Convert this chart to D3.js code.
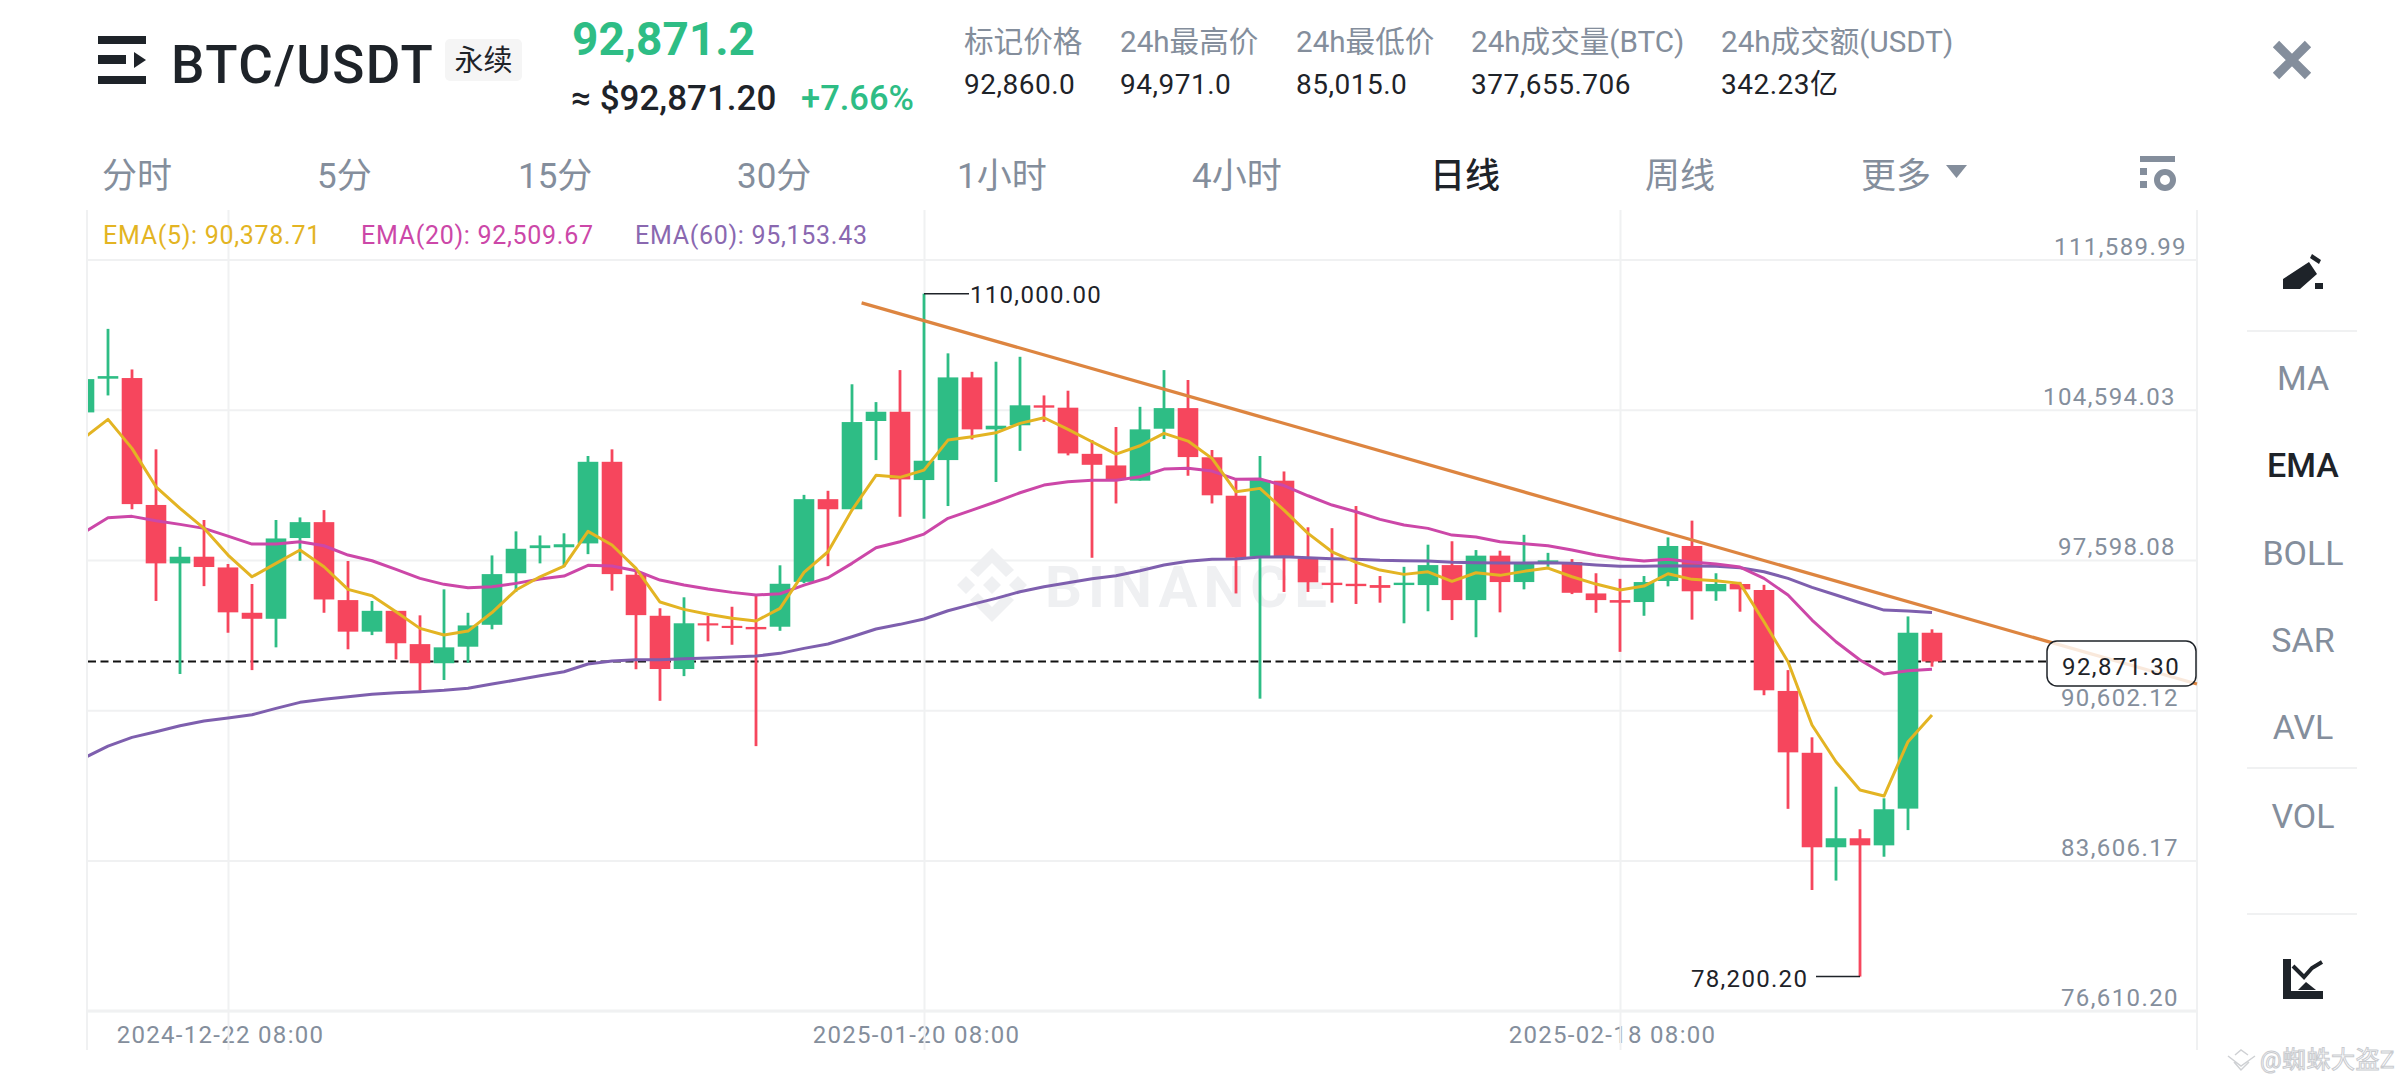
<!DOCTYPE html>
<html>
<head>
<meta charset="utf-8">
<script src="https://cdn.jsdelivr.net/npm/d3@7"></script>
<style>
  html, body { margin: 0; padding: 0; background: #fff; }
  svg { display: block; }
  text { font-family: Roboto, "Noto Sans CJK SC", sans-serif; }
</style>
</head>
<body>
<svg id="chart" width="2400" height="1080"></svg>
<script>
// daily candles, 2024-12-16 onwards
const opens = [
  104470,106040,106070,100160,97440,97750,97250,95140,94860,98620,
  99360,95730,94260,95230,93680,92790,93560,94580,96980,98150,
  98190,98370,102170,96910,95000,92520,94650,94530,94480,94490,
  96580,100430,99960,104070,104500,101320,102250,106100,103680,103870,
  104800,104690,102540,102000,101290,103710,104670,102380,100590,97750,
  101290,97670,96540,96490,96430,96430,96430,97360,95730,97800,
  96570,97440,97500,96040,95730,95640,96620,98250,96140,96480,
  96200,91500,88620,84220,84640,84310,86020,94210];
const highs = [
  106020,108360,106470,102750,98210,99460,97410,96480,99460,99580,
  99920,97550,95690,95230,95020,96230,95140,97810,98930,98740,
  98840,102440,102750,97130,95350,95860,94990,95420,95970,97350,
  100630,100820,105780,104950,106440,110000,107220,106360,106830,107060,
  105260,105480,103180,103790,104730,106440,105980,102720,101400,102440,
  101720,99120,99080,100110,96850,97280,98310,98470,98060,98030,
  98770,97930,97640,96980,96720,96850,98650,99430,96980,96580,
  96440,92470,89340,87040,85060,86500,94970,94370];
const lows = [
  104470,105260,99960,95690,92290,96380,94210,92470,93530,97560,
  95140,93440,94100,92970,91510,92010,92810,94370,96120,97440,
  97280,97870,96170,92510,91040,92190,93810,93650,88930,94300,
  96520,97310,99960,102250,99610,99520,100110,103210,101230,102680,
  104030,102470,97700,100230,101290,103230,101520,100230,96040,91140,
  96110,96110,95610,95550,95610,94650,95210,94800,94000,95160,
  96230,97280,96010,95140,93320,95000,96370,94820,95700,95190,
  91300,86010,82230,82670,78200.2,83780,85020,92630];
const closes = [
  106020,106160,100200,97440,97750,97270,95160,94860,98600,99360,
  95760,94260,95230,93720,92790,93530,94550,96940,98120,98280,
  98330,102170,96940,95030,92520,94650,94550,94430,94370,96490,
  100430,99960,104020,104500,101350,102220,106100,103680,103850,104800,
  104690,102560,102030,101320,103680,104670,102390,100610,97700,101320,
  97730,96560,96430,96380,96300,96540,97360,95730,97800,96570,
  97440,97580,96070,95730,95610,96570,98250,96140,96480,96230,
  91530,88640,84220,84640,84310,85990,94210,92871.3];

const ema5 = [
  103275,104145,102795,101007,100002,99070,97827,96816,97441,98060,
  97282,96230,95932,95187,94414,94102,94288,95150,96198,96816,
  97315,98931,98294,97209,95639,95299,95067,94881,94755,95346,
  97022,97981,99922,101538,101445,101785,103182,103335,103521,103959,
  104220,103680,103103,102530,102917,103494,103135,102330,100774,100933,
  99922,98836,97981,97487,97128,96928,97049,96602,97003,96882,
  97068,97222,96816,96476,96198,96384,96956,96696,96630,96509,
  94722,92859,89912,88203,86886,86606,89135,90378.71];
const ema20 = [
  98884,99564,99629,99424,99256,99070,98712,98339,98339,98446,
  98260,97827,97562,97161,96742,96463,96305,96351,96509,96710,
  96850,97348,97315,97096,96663,96430,96244,96090,95965,96026,
  96430,96770,97441,98167,98446,98804,99536,99922,100309,100728,
  101087,101240,101306,101306,101473,101832,101865,101739,101352,101366,
  101063,100588,100155,99843,99489,99225,99070,98758,98665,98446,
  98353,98260,98060,97827,97655,97548,97627,97501,97408,97268,
  96742,95965,94801,93790,92938,92286,92440,92509.67];
const ema60 = [
  88376,88934,89339,89600,89879,90098,90238,90391,90689,90969,
  91109,91230,91341,91416,91462,91528,91621,91821,92007,92207,
  92394,92752,92892,92953,92953,93000,93032,93078,93125,93250,
  93483,93684,94024,94383,94601,94848,95234,95532,95811,96118,
  96351,96537,96724,96864,97096,97362,97534,97627,97641,97734,
  97748,97701,97655,97627,97580,97562,97548,97487,97468,97455,
  97455,97468,97441,97362,97306,97306,97325,97315,97301,97236,
  97050,96742,96323,95965,95606,95266,95220,95153.43];

const priceTicks = [76610.20, 83606.17, 90602.12, 97598.08, 104594.03, 111589.99];
const dateTickIndex = [6, 35, 64];
const dateTickLabels = ["2024-12-22 08:00", "2025-01-20 08:00", "2025-02-18 08:00"];
const lastPrice = 92871.30;
const highIndex = 35, lowIndex = 74;
const trendIndex = [32.4, 88.04];
const trendPrice = [109570, 91820];

const tabs = ["分时", "5分", "15分", "30分", "1小时", "4小时", "日线", "周线", "更多"];
const statLabels = ["标记价格", "24h最高价", "24h最低价", "24h成交量(BTC)", "24h成交额(USDT)"];
const statValues = ["92,860.0", "94,971.0", "85,015.0", "377,655.706", "342.23亿"];
const indicators = ["MA", "EMA", "BOLL", "SAR", "AVL", "VOL"];

const GREEN = "#2ebd85", RED = "#f6465d", INK = "#1e2329", GRAY = "#848e9c", GRID = "#f0f1f2";
const plot = { left: 88, right: 2197, top: 210, bottom: 1011, end: 1050 };

const svg = d3.select("#chart");
const fmt = d3.format(",.2f");

const x = d3.scaleLinear().domain([0, opens.length - 1]).range([84, 1932]);
const y = d3.scaleLinear().domain([76610.20, 111589.99]).range([1010.7, 259.5]);

svg.append("defs").append("clipPath").attr("id", "plot-clip")
  .append("rect").attr("x", plot.left).attr("y", plot.top)
  .attr("width", plot.right - plot.left).attr("height", plot.bottom - plot.top);

// grid + axes
svg.append("g").selectAll("line")
  .data([plot.left - 1, plot.right])
  .join("line")
  .attr("x1", d => d).attr("x2", d => d)
  .attr("y1", plot.top).attr("y2", plot.end)
  .attr("stroke", GRID).attr("stroke-width", 2);

const yAxis = svg.append("g")
  .attr("transform", `translate(${plot.right},0)`)
  .call(d3.axisLeft(y).tickValues(priceTicks).tickSize(plot.right - plot.left).tickFormat(fmt));
yAxis.select(".domain").remove();
yAxis.selectAll("line").attr("stroke", GRID).attr("stroke-width", 2);
const labelRight = [2179, 2179, 2179, 2176, 2176, 2187];
yAxis.selectAll("text")
  .attr("x", (d, i) => labelRight[i] - plot.right)
  .attr("dy", 0).attr("y", -5)
  .attr("text-anchor", "end")
  .attr("fill", GRAY)
  .style("font-size", "24px")
  .style("letter-spacing", "1.4px");

const xAxis = svg.append("g")
  .attr("transform", `translate(0,${plot.bottom})`)
  .call(d3.axisTop(x).tickValues(dateTickIndex).tickSize(plot.bottom - plot.top).tickSizeOuter(0)
    .tickFormat((d, i) => dateTickLabels[i]));
xAxis.select(".domain").remove();
xAxis.selectAll("line").attr("stroke", GRID).attr("stroke-width", 2);
xAxis.selectAll(".tick").append("line")
  .attr("y1", 0).attr("y2", plot.end - plot.bottom)
  .attr("stroke", GRID).attr("stroke-width", 2);
xAxis.selectAll("text")
  .attr("x", -8).attr("y", 32).attr("dy", 0)
  .attr("text-anchor", "middle")
  .attr("fill", GRAY)
  .style("font-size", "24px")
  .style("letter-spacing", "1.3px");
svg.append("line")
  .attr("x1", plot.left).attr("x2", plot.right)
  .attr("y1", plot.bottom).attr("y2", plot.bottom)
  .attr("stroke", GRID).attr("stroke-width", 3);

// watermark
const wm = svg.append("g").attr("fill", "#eff0f2");
wm.append("path").attr("transform", "translate(992,585)")
  .attr("d", "M0,-9L9,0L0,9L-9,0Z M-26,-9L-17,0L-26,9L-35,0Z M26,-9L35,0L26,9L17,0Z"
    + " M0,-37L22,-15L14,-8L0,-22L-14,-8L-22,-15Z M0,37L22,15L14,8L0,22L-14,8L-22,15Z");
wm.append("text").attr("x", 1045).attr("y", 607)
  .style("font-size", "58px").style("font-weight", 700).style("letter-spacing", "6px")
  .text("BINANCE");

// last price line
svg.append("line")
  .attr("x1", plot.left).attr("x2", 2047)
  .attr("y1", y(lastPrice)).attr("y2", y(lastPrice))
  .attr("stroke", "#111").attr("stroke-width", 2).attr("stroke-dasharray", "8 4.5");

const chart = svg.append("g").attr("clip-path", "url(#plot-clip)");
const colour = i => (closes[i] >= opens[i] ? GREEN : RED);

chart.append("g").selectAll("line")
  .data(d3.range(opens.length))
  .join("line")
  .attr("x1", i => x(i)).attr("x2", i => x(i))
  .attr("y1", i => y(highs[i])).attr("y2", i => y(lows[i]))
  .attr("stroke", colour).attr("stroke-width", 2.8);

chart.append("g").selectAll("rect")
  .data(d3.range(opens.length))
  .join("rect")
  .attr("x", i => x(i) - 10.3)
  .attr("width", 20.6)
  .attr("y", i => y(Math.max(opens[i], closes[i])))
  .attr("height", i => Math.max(2, Math.abs(y(opens[i]) - y(closes[i]))))
  .attr("fill", colour);

const line = d3.line().x((d, i) => x(i)).y(d => y(d));
[[ema60, "#7e5fae"], [ema20, "#cc47a8"], [ema5, "#e3b423"]].forEach(([values, stroke]) => {
  chart.append("path").attr("d", line(values))
    .attr("fill", "none").attr("stroke", stroke).attr("stroke-width", 3)
    .attr("stroke-linejoin", "round");
});

// trend line
svg.append("line")
  .attr("x1", x(trendIndex[0])).attr("y1", y(trendPrice[0]))
  .attr("x2", x(trendIndex[1])).attr("y2", y(trendPrice[1]))
  .attr("stroke", "#dd8540").attr("stroke-width", 3.2);

// high / low callouts
svg.append("path")
  .attr("d", `M${x(highIndex)},${y(110000)}H969`)
  .attr("stroke", INK).attr("stroke-width", 1.5).attr("fill", "none");
svg.append("text").attr("x", 970).attr("y", 303).attr("fill", INK)
  .style("font-size", "24px").style("letter-spacing", "1.3px").text(fmt(highs[highIndex]));
svg.append("path")
  .attr("d", `M${x(lowIndex)},${y(78200.2)}H1816`)
  .attr("stroke", INK).attr("stroke-width", 1.5).attr("fill", "none");
svg.append("text").attr("x", 1691).attr("y", 987).attr("fill", INK)
  .style("font-size", "24px").style("letter-spacing", "1.3px").text(fmt(lows[lowIndex]));

// last price tag
svg.append("rect")
  .attr("x", 2047).attr("y", 641).attr("width", 149).attr("height", 45).attr("rx", 10)
  .attr("fill", "#fff").attr("fill-opacity", 0.82)
  .attr("stroke", INK).attr("stroke-width", 1.5);
svg.append("text").attr("x", 2062).attr("y", 675).attr("fill", INK)
  .style("font-size", "24px").style("letter-spacing", "1.4px").text(fmt(lastPrice));

// legend
const legend = [["EMA(5)", ema5, 103, "#e3b423"], ["EMA(20)", ema20, 361, "#cc47a8"], ["EMA(60)", ema60, 635, "#8a68b0"]];
svg.append("g").selectAll("text")
  .data(legend)
  .join("text")
  .attr("x", d => d[2]).attr("y", 244)
  .attr("fill", d => d[3])
  .style("font-size", "25px")
  .style("letter-spacing", "0.7px")
  .text(d => `${d[0]}: ${fmt(d[1][d[1].length - 1])}`);

// header
const logo = svg.append("g").attr("fill", INK);
logo.append("rect").attr("x", 98).attr("y", 36).attr("width", 48).attr("height", 8);
logo.append("rect").attr("x", 98).attr("y", 55).attr("width", 28).attr("height", 9);
logo.append("path").attr("d", "M134,52L146,60L134,68Z");
logo.append("rect").attr("x", 98).attr("y", 76).attr("width", 48).attr("height", 8);

svg.append("text").attr("x", 171).attr("y", 83).attr("fill", INK)
  .style("font-size", "53px").style("font-weight", 500).style("letter-spacing", "1.4px").text("BTC/USDT");
svg.append("rect").attr("x", 445).attr("y", 39).attr("width", 77).attr("height", 42).attr("rx", 5).attr("fill", "#f5f5f5");
svg.append("text").attr("x", 483.5).attr("y", 71).attr("text-anchor", "middle").attr("fill", INK)
  .style("font-size", "29px").text("永续");

svg.append("text").attr("x", 572).attr("y", 55).attr("fill", GREEN)
  .style("font-size", "46px").style("font-weight", 700).text("92,871.2");
svg.append("text").attr("x", 571).attr("y", 110).attr("fill", INK)
  .style("font-size", "35px").style("font-weight", 500).text("≈ $92,871.20");
svg.append("text").attr("x", 801).attr("y", 110).attr("fill", GREEN)
  .style("font-size", "34.5px").style("font-weight", 500).text("+7.66%");

const statX = [964, 1120, 1296, 1471, 1721];
svg.append("g").selectAll("text")
  .data(statLabels)
  .join("text")
  .attr("x", (d, i) => statX[i]).attr("y", 52).attr("fill", GRAY)
  .style("font-size", "29.6px")
  .text(d => d);
svg.append("g").selectAll("text")
  .data(statValues)
  .join("text")
  .attr("x", (d, i) => statX[i]).attr("y", 94).attr("fill", INK)
  .style("font-size", "28px")
  .style("letter-spacing", "0.5px")
  .text(d => d);

// close button
svg.append("path").attr("d", "M2276,44L2308,76M2308,44L2276,76")
  .attr("stroke", GRAY).attr("stroke-width", 9).attr("fill", "none");

// period tabs
const tabX = [102, 317, 518, 737, 957, 1192, 1430, 1645, 1861];
svg.append("g").selectAll("text")
  .data(tabs)
  .join("text")
  .attr("x", (d, i) => tabX[i]).attr("y", 188)
  .attr("fill", d => (d === "日线" ? INK : GRAY))
  .style("font-size", "35px")
  .style("font-weight", d => (d === "日线" ? 500 : 400))
  .text(d => d);
svg.append("path").attr("d", "M1946,165H1967L1956.5,178Z").attr("fill", GRAY);

const gear = svg.append("g").attr("fill", GRAY);
gear.append("rect").attr("x", 2140).attr("y", 156).attr("width", 35).attr("height", 6);
gear.append("rect").attr("x", 2140).attr("y", 168).attr("width", 7).attr("height", 7);
gear.append("rect").attr("x", 2140).attr("y", 181).attr("width", 7).attr("height", 7);
gear.append("circle").attr("cx", 2165).attr("cy", 180).attr("r", 8)
  .attr("fill", "none").attr("stroke", GRAY).attr("stroke-width", 6);

// right side panel
svg.append("g").selectAll("line")
  .data([331, 768, 914])
  .join("line")
  .attr("x1", 2247).attr("x2", 2357).attr("y1", d => d).attr("y2", d => d)
  .attr("stroke", GRID).attr("stroke-width", 2);
const indicatorY = [378, 465, 552.5, 640, 727, 816];
svg.append("g").selectAll("text")
  .data(indicators)
  .join("text")
  .attr("x", 2303).attr("y", (d, i) => indicatorY[i] + 12)
  .attr("text-anchor", "middle")
  .attr("fill", d => (d === "EMA" ? INK : GRAY))
  .style("font-size", "34px")
  .style("font-weight", d => (d === "EMA" ? 500 : 400))
  .text(d => d);

svg.append("path").attr("fill", INK)
  .attr("d", "M2283,289V279L2309,262L2317,274L2300,289ZM2312,254L2321,260L2319,264L2310,258ZM2315,283H2323V289H2315Z");
svg.append("path").attr("fill", INK)
  .attr("d", "M2283,959H2291V991H2323V999H2283ZM2298,990L2306,982L2316,990Z");
svg.append("polyline").attr("points", "2293,966 2304,977 2312,968 2322,962")
  .attr("fill", "none").attr("stroke", INK).attr("stroke-width", 4);

// repost mark
svg.append("path").attr("fill", "none").attr("stroke", "#cfd1d4").attr("stroke-width", 1.5)
  .attr("d", "M2228,1056L2241,1066L2255,1056M2235,1055L2241,1050L2248,1055M2234,1062L2241,1070L2249,1062");
svg.append("text").attr("x", 2260).attr("y", 1068).attr("fill", "#fff")
  .attr("stroke", "#c9cbcf").attr("stroke-width", 1)
  .style("font-size", "24px").style("letter-spacing", "0.5px").text("@蜘蛛大盗Z");
</script>
</body>
</html>
